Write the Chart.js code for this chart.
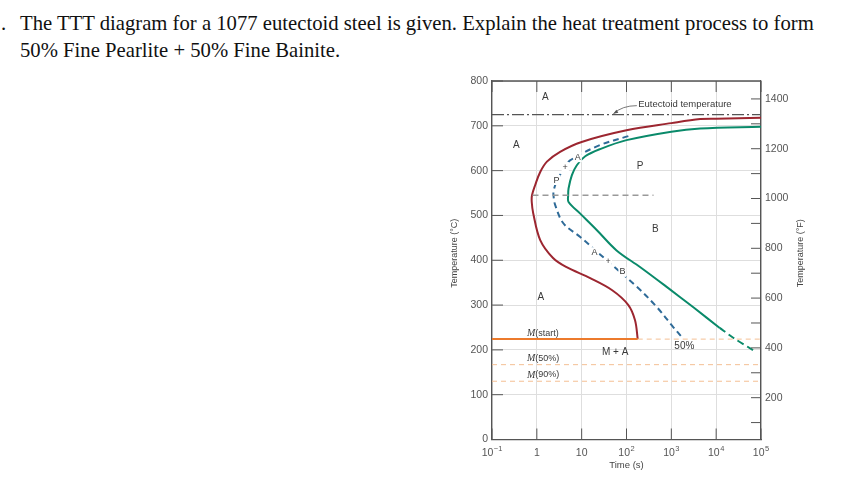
<!DOCTYPE html>
<html>
<head>
<meta charset="utf-8">
<script src="https://cdn.jsdelivr.net/npm/chart.js@4.4.1/dist/chart.umd.min.js"></script>
<style>
  html, body { margin: 0; padding: 0; background: #fff; }
  #page { position: relative; width: 853px; height: 487px; overflow: hidden; }
  .q { position: absolute; font-family: "Liberation Serif", serif; font-size: 20.7px; color: #111; white-space: nowrap; }
  #ttt { position: absolute; left: 0; top: 0; }
</style>
</head>
<body>
<div id="page">
  <div class="q" style="left:1px;top:12px">.</div>
  <div class="q" style="left:20px;top:12px">The TTT diagram for a 1077 eutectoid steel is given. Explain the heat treatment process to form</div>
  <div class="q" style="left:20px;top:39px">50% Fine Pearlite + 50% Fine Bainite.</div>
  <canvas id="ttt" width="853" height="487"></canvas>
</div>
<script>
// axis ticks
const timeTicks = [0.1, 1, 10, 100, 1000, 10000, 100000];
const timeTickBase = ["10", "1", "10", "10", "10", "10", "10"];
const timeTickExp = ["−1", "", "", "2", "3", "4", "5"];
const celsiusTicks = [0, 100, 200, 300, 400, 500, 600, 700, 800];
const fahrenheitTicks = [100, 200, 300, 400, 500, 600, 700, 800, 900, 1000, 1100, 1200, 1300, 1400];
const fahrenheitLabels = ["", "200", "", "400", "", "600", "", "800", "", "1000", "", "1200", "", "1400"];

// start of transformation (0%)
const redTime = [100000, 10000, 4400, 1000, 100, 10, 3.3, 1.68, 1.19, 0.92, 0.78, 0.77, 0.83, 1.19, 2.3, 4.5, 15.5, 48, 110, 155, 178];
const redTemp = [718, 716, 715, 706, 690, 664, 642, 620, 597, 568, 545, 530, 505, 445, 405, 385, 360, 333, 300, 266, 224];

// end of transformation (100%)
const greenTime = [100000, 4400, 1000, 100, 25.7, 12, 7.8, 6.05, 5.1, 5.0, 5.1, 9.3, 21.9, 60, 200, 800, 3100, 12000];
const greenTemp = [698, 694, 687, 668, 648, 632, 612, 590, 560, 545, 530, 504, 467, 422, 385, 340, 295, 249];
const greenTailTime = [12000, 24000, 67600];
const greenTailTemp = [249, 227, 199];

// 50% transformation
const blueTime = [110, 25.7, 5.5, 4.3, 2.85, 2.38, 2.35, 2.57, 3.94, 9.3, 40, 170, 470, 1100, 1700];
const blueTemp = [677, 657, 623, 608, 579, 556, 545, 523, 482, 452, 396, 341, 296, 251, 229];

// horizontal lines
const eutectoidTemp = 725;
const noseTemp = 545;
const noseSpan = [0.8, 400];
const msTemp = 224;
const m50Temp = 167;
const m90Temp = 130;
const timeRange = [0.1, 100000];

function pts(xs, ys) {
  return xs.map((x, i) => ({ x: x, y: ys[i] }));
}
function flat(span, temp) {
  return span.map(x => ({ x: x, y: temp }));
}

const sans = "Liberation Sans";

const notes = {
  id: "notes",
  afterDatasetsDraw(chart) {
    const { ctx, scales: { x, y } } = chart;
    const px = t => x.getPixelForValue(t);
    const py = T => y.getPixelForValue(T);
    ctx.save();
    ctx.fillStyle = "#3a3a3a";
    ctx.textBaseline = "middle";
    ctx.textAlign = "center";

    ctx.font = "10px " + sans;
    [["A", 1.54, 764], ["A", 0.35, 657], ["P", 200, 609], ["B", 437, 469], ["A", 1.23, 318], ["M + A", 56, 194], ["50%", 1950, 207]]
      .forEach(([s, t, T]) => ctx.fillText(s, px(t), py(T)));

    // labels along the 50% curve, breaking the dashes
    ctx.font = "9px " + sans;
    [["P", 2.75, 579], ["+", 4.3, 608], ["A", 8.2, 630], ["A", 19.3, 418], ["+", 39, 397], ["B", 81, 374]]
      .forEach(([s, t, T]) => {
        const w = ctx.measureText(s).width + 2;
        ctx.fillStyle = "#fff";
        ctx.fillRect(px(t) - w / 2, py(T) - 5, w, 10);
        ctx.fillStyle = "#3a3a3a";
        ctx.fillText(s, px(t), py(T));
      });

    // martensite labels
    ctx.textAlign = "left";
    [["(start)", 236], ["(50%)", 180], ["(90%)", 144]].forEach(([s, T]) => {
      const x0 = px(0.6), y0 = py(T);
      ctx.font = "italic 10px Liberation Serif";
      ctx.fillText("M", x0, y0);
      const w = ctx.measureText("M").width;
      ctx.font = "9px " + sans;
      ctx.fillText(s, x0 + w, y0);
    });

    // eutectoid label with leader arrow
    ctx.font = "9.5px " + sans;
    ctx.fillText("Eutectoid temperature", px(182), py(748));
    const sx = px(170), sy = py(745), ex = px(51), ey = py(eutectoidTemp + 2);
    ctx.strokeStyle = "#555";
    ctx.lineWidth = 0.8;
    ctx.beginPath();
    ctx.moveTo(sx, sy);
    ctx.quadraticCurveTo(px(80), sy, ex, ey);
    ctx.stroke();
    ctx.beginPath();
    ctx.moveTo(ex, ey);
    ctx.lineTo(ex + 5, ey - 1);
    ctx.lineTo(ex + 3, ey - 4);
    ctx.closePath();
    ctx.fillStyle = "#555";
    ctx.fill();
    ctx.restore();
  },
  afterDraw(chart) {
    const { ctx, chartArea: a, scales: { x, y, y2 } } = chart;
    ctx.save();
    ctx.strokeStyle = "#555";
    ctx.lineWidth = 1.3;
    ctx.beginPath();
    ctx.moveTo(a.left, a.top);
    ctx.lineTo(a.right, a.top);
    ctx.stroke();
    ctx.lineWidth = 1;
    ctx.beginPath();
    y.ticks.forEach(t => {
      const p = y.getPixelForValue(t.value);
      ctx.moveTo(a.left, p); ctx.lineTo(a.left + 11, p);
    });
    x.ticks.forEach(t => {
      const p = x.getPixelForValue(t.value);
      ctx.moveTo(p, a.bottom); ctx.lineTo(p, a.bottom - 11);
      ctx.moveTo(p, a.top); ctx.lineTo(p, a.top + 11);
    });
    y2.ticks.forEach(t => {
      const p = y2.getPixelForValue(t.value);
      ctx.moveTo(a.right, p); ctx.lineTo(a.right - 10, p);
    });
    ctx.stroke();

    // time tick labels with real superscripts
    ctx.fillStyle = "#555";
    ctx.textBaseline = "alphabetic";
    ctx.textAlign = "left";
    x.ticks.forEach((t, i) => {
      const base = timeTickBase[i], exp = timeTickExp[i];
      ctx.font = "10.5px " + sans;
      const wb = ctx.measureText(base).width;
      ctx.font = "7.5px " + sans;
      const we = exp ? ctx.measureText(exp).width + 0.5 : 0;
      const left = x.getPixelForValue(t.value) - (wb + we) / 2;
      const base_y = a.bottom + 16;
      ctx.font = "10.5px " + sans;
      ctx.fillText(base, left, base_y);
      if (exp) {
        ctx.font = "7.5px " + sans;
        ctx.fillText(exp, left + wb + 0.5, base_y - 5);
      }
    });

    // vertical axis titles (both read bottom to top)
    ctx.fillStyle = "#444";
    ctx.font = "9px " + sans;
    ctx.textAlign = "center";
    ctx.textBaseline = "middle";
    const cy = (a.top + a.bottom) / 2 - 7;
    [[y.left + 9, "Temperature (°C)"], [y2.right - 10, "Temperature (°F)"]].forEach(([tx, s]) => {
      ctx.save();
      ctx.translate(tx, cy);
      ctx.rotate(-Math.PI / 2);
      ctx.fillText(s, 0, 0);
      ctx.restore();
    });
    ctx.restore();
  }
};

const tickFont = { family: sans, size: 10.5 };

new Chart(document.getElementById("ttt"), {
  type: "scatter",
  data: {
    datasets: [
      { data: flat(timeRange, eutectoidTemp), borderColor: "#555", borderWidth: 1.2, borderDash: [12, 3, 2, 3] },
      { data: flat(noseSpan, noseTemp), borderColor: "#999", borderWidth: 1.5, borderDash: [6, 4] },
      { data: flat([redTime[redTime.length - 1], timeRange[1]], msTemp), borderColor: "#f4bf93", borderWidth: 1, borderDash: [5, 4] },
      { data: flat(timeRange, m50Temp), borderColor: "#f4bf93", borderWidth: 1, borderDash: [5, 4] },
      { data: flat(timeRange, m90Temp), borderColor: "#f4bf93", borderWidth: 1, borderDash: [5, 4] },
      { data: flat([timeRange[0], redTime[redTime.length - 1]], msTemp), borderColor: "#ec7a2c", borderWidth: 2 },
      { data: pts(blueTime, blueTemp), borderColor: "#2f6b98", borderWidth: 2, borderDash: [6, 4], tension: 0.35 },
      { data: pts(greenTailTime, greenTailTemp), borderColor: "#0a8a6a", borderWidth: 2, borderDash: [7, 4], tension: 0.3 },
      { data: pts(greenTime, greenTemp), borderColor: "#0a8a6a", borderWidth: 2, tension: 0.35 },
      { data: pts(redTime, redTemp), borderColor: "#9c2630", borderWidth: 2, tension: 0.35 }
    ]
  },
  options: {
    responsive: false,
    animation: false,
    showLine: true,
    layout: { padding: { left: 446, right: 42, top: 81, bottom: 15.5 } },
    elements: { point: { radius: 0 } },
    plugins: { legend: { display: false }, tooltip: { enabled: false } },
    scales: {
      x: {
        type: "logarithmic",
        position: "bottom",
        min: timeRange[0],
        max: timeRange[1],
        afterBuildTicks: s => { s.ticks = timeTicks.map(v => ({ value: v })); },
        afterFit: s => { s.height = 32; },
        ticks: { display: false },
        grid: { color: "#dedede", drawTicks: false },
        border: { color: "#555", width: 1.3 },
        title: { display: true, text: "Time (s)", color: "#444", font: { family: sans, size: 9.5 }, padding: { top: 0, bottom: 0 } }
      },
      y: {
        position: "left",
        min: 0,
        max: 800,
        afterBuildTicks: s => { s.ticks = celsiusTicks.map(v => ({ value: v })); },
        afterFit: s => { s.width = 46; },
        ticks: { padding: 4, color: "#555", font: tickFont },
        grid: { color: "#dedede", drawTicks: false },
        border: { color: "#555", width: 1.3 }
      },
      y2: {
        position: "right",
        min: 32,
        max: 1472,
        afterBuildTicks: s => { s.ticks = fahrenheitTicks.map(v => ({ value: v })); },
        afterFit: s => { s.width = 50; },
        ticks: { padding: 4, color: "#555", font: tickFont, callback: (v, i) => fahrenheitLabels[i] },
        grid: { drawOnChartArea: false, drawTicks: false },
        border: { color: "#555", width: 1.3 }
      }
    }
  },
  plugins: [notes]
});
</script>
</body>
</html>
